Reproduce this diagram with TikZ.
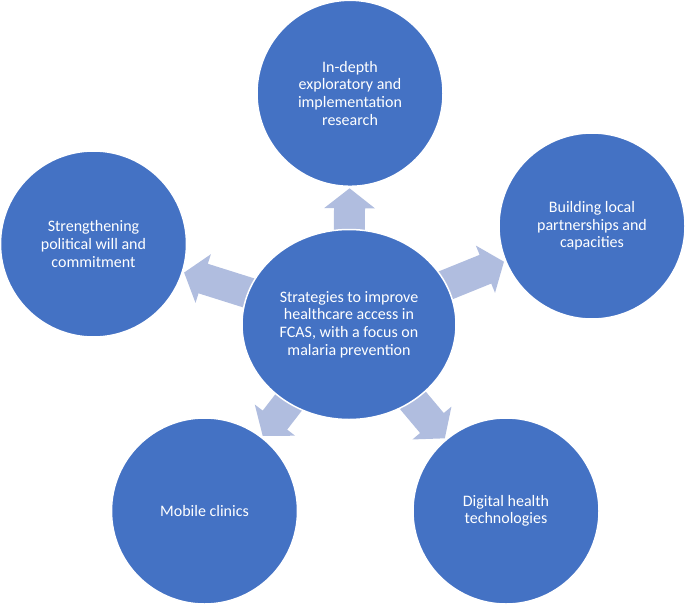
\documentclass[tikz,border=0pt]{standalone}
\usepackage{fontspec}
\setmainfont{Carlito}
\usetikzlibrary{shapes.geometric,calc,backgrounds}
\definecolor{circblue}{HTML}{4472C4}
\definecolor{arrowblue}{RGB}{176,189,223}
\tikzset{
  outercirc/.style={circle, fill=circblue, draw=white, line width=1.5pt, minimum size=186pt, inner sep=0pt, align=center, text=white, font=\fontsize{16}{17.6}\selectfont},
  centerell/.style={ellipse, fill=circblue, draw=white, line width=1.5pt, minimum width=214pt, minimum height=190pt, inner sep=0pt, align=center, text=white, font=\fontsize{16}{17.6}\selectfont},
  blockarrow/.style={fill=arrowblue, draw=none}
}
\newcommand\radialarrow[2]{%
  \coordinate (T) at ($(#2.center)!95pt!(#1.center)$);
  \coordinate (B) at ($(T)!20pt!(#1.center)$);
  \fill[blockarrow] ($(#1.center)!15.5pt!90:(T)$) -- ($(B)!15.5pt!90:(T)$) -- ($(B)!25.5pt!90:(T)$) -- (T) -- ($(B)!25.5pt!-90:(T)$) -- ($(B)!15.5pt!-90:(T)$) -- ($(#1.center)!15.5pt!-90:(T)$) -- cycle;
}
\begin{document}
\begin{tikzpicture}[x=1pt,y=-1pt]
\useasboundingbox (0,0) rectangle (685,605);
\node[centerell] (ctr) at (349,324.5) {Strategies to improve\\healthcare access in\\FCAS, with a focus on\\malaria prevention};
\node[outercirc] (top) at (350,93.3) {In-depth\\exploratory and\\implementation\\research};
\node[outercirc] (left) at (93.5,244) {Strengthening\\political will and\\commitment};
\node[outercirc] (right) at (592,226) {Building local\\partnerships and\\capacities};
\node[outercirc] (bl) at (204.5,511) {Mobile clinics};
\node[outercirc] (br) at (506,511) {Digital health\\technologies};
\begin{pgfonlayer}{background}
\radialarrow{ctr}{top}
\radialarrow{ctr}{left}
\radialarrow{ctr}{right}
\radialarrow{ctr}{bl}
\radialarrow{ctr}{br}
\end{pgfonlayer}
\end{tikzpicture}
\end{document}
